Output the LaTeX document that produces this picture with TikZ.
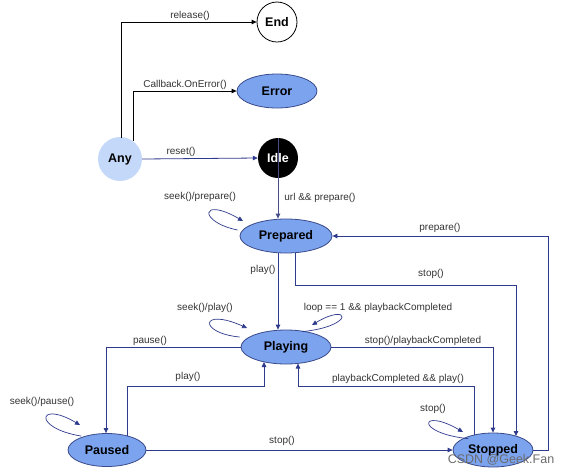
\documentclass[tikz,border=0pt]{standalone}
\usepackage{fontspec}
\setmainfont{Liberation Sans}
\usetikzlibrary{arrows.meta,shapes.geometric}
\definecolor{stfill}{HTML}{7BA3EE}
\definecolor{stline}{HTML}{3A4A8A}
\definecolor{anyfill}{HTML}{C4D9FA}
\definecolor{edge}{HTML}{2E3A8C}
\tikzset{
  state/.style={ellipse,draw=stline,fill=stfill,line width=0.8pt,inner sep=0pt,font=\fontsize{12.5}{14}\selectfont\bfseries},
  tr/.style={draw=edge,line width=0.8pt,-{Triangle[length=5pt,width=4.5pt]}},
  trk/.style={draw=black,line width=0.8pt,-{Triangle[length=5pt,width=4.5pt]}},
  lbl/.style={font=\fontsize{10}{12}\selectfont,text=black!80,inner sep=1pt},
}
\begin{document}
\begin{tikzpicture}[x=1pt,y=-1pt]
\useasboundingbox (0,0) rectangle (571,475);
% nodes
\node[circle,draw=black,fill=white,line width=0.8pt,minimum size=40pt,inner sep=0pt,font=\fontsize{12.5}{14}\selectfont\bfseries] (end) at (277,22) {End};
\node[state,minimum width=80pt,minimum height=34pt] (error) at (277,91) {Error};
\node[circle,fill=anyfill,minimum size=44pt,inner sep=0pt,font=\fontsize{12.5}{14}\selectfont\bfseries] (any) at (120,159) {Any};
\node[circle,fill=black,text=white,minimum size=40pt,inner sep=0pt,font=\fontsize{12.5}{14}\selectfont\bfseries] (idle) at (278,158) {Idle};
\node[state,minimum width=92pt,minimum height=34pt] (prep) at (286,236) {Prepared};
\node[state,minimum width=90pt,minimum height=34pt] (play) at (286,347) {Playing};
\node[state,minimum width=78pt,minimum height=33pt] (paused) at (107,450) {Paused};
\node[state,minimum width=80pt,minimum height=34pt] (stop) at (493,450) {Stopped};
% coordinates on node borders and bends
\coordinate (a1) at (121,137.5);
\coordinate (a2) at (133,141);
\coordinate (c1) at (121,22);
\coordinate (c2) at (133,91);
\coordinate (p1) at (295,253);
\coordinate (c3) at (295,285);
\coordinate (c4) at (516,285);
\coordinate (s1) at (516,436);
\coordinate (c5) at (548,450);
\coordinate (c6) at (548,236);
\coordinate (c7) at (106,347);
\coordinate (q1) at (127,436);
\coordinate (c8) at (127,386);
\coordinate (c9) at (264,386);
\coordinate (g1) at (264,362);
\coordinate (c10) at (493,347);
\coordinate (s2) at (474,435);
\coordinate (c11) at (474,386);
\coordinate (c12) at (298,386);
\coordinate (g2) at (298,363.5);
% edges
\draw[trk] (a1) -- (c1) -- (end.west);
\draw[trk] (a2) -- (c2) -- (error.west);
\draw[tr] (any.east) -- (idle.west);
\draw[draw=edge!70!gray,line width=0.8pt,-{Triangle[length=5pt,width=4.5pt]}] (idle.north) -- (prep.north -| idle.north);
\draw[tr] (prep.south -| 278,0) -- (play.north -| 278,0);
\draw[tr] (p1) -- (c3) -- (c4) -- (s1);
\draw[tr] (stop.east) -- (c5) -- (c6) -- (prep.east);
\draw[tr] (play.west) -- (c7) -- (paused.north -| c7);
\draw[tr] (q1) -- (c8) -- (c9) -- (g1);
\draw[tr] (play.east) -- (c10) -- (stop.north);
\draw[tr] (s2) -- (c11) -- (c12) -- (g2);
\draw[tr] (paused.east) -- (stop.west);
% self loops
\draw[tr,line width=0.7pt] (prep.west) ++(-2,-6) .. controls (198,222) and (200,196) .. (243,221);
\draw[tr,line width=0.7pt] (play.west) ++(-1,-10) .. controls (198,333) and (200,307) .. (247,328);
\draw[tr,line width=0.7pt] (paused.north west) ++(2,-2) .. controls (32,428) and (38,400) .. (80,425);
\draw[tr,line width=0.7pt] (stop.north west) ++(4,1) .. controls (414,433) and (420,407) .. (463,432);
\draw[tr,line width=0.7pt] (play.north east) ++(-16,-3) .. controls (356,326) and (350,302) .. (312,325);
% labels
\node[lbl] (l1) at (190,16) {release()};
\node[lbl] (l2) at (185,85) {Callback.OnError()};
\node[lbl] (l3) at (181,152) {reset()};
\node[lbl] (l4) at (320,198) {url \&\& prepare()};
\node[lbl] (l5) at (200,197) {seek()/prepare()};
\node[lbl] (l6) at (263,270) {play()};
\node[lbl] (l7) at (440,228) {prepare()};
\node[lbl] (l8) at (431,274) {stop()};
\node[lbl] (l9) at (205,308) {seek()/play()};
\node[lbl] (l10) at (378,308) {loop == 1 \&\& playbackCompleted};
\node[lbl] (l11) at (150,341) {pause()};
\node[lbl] (l12) at (423,341) {stop()/playbackCompleted};
\node[lbl] (l13) at (188,377) {play()};
\node[lbl] (l14) at (398,379) {playbackCompleted \&\& play()};
\node[lbl] (l15) at (42,402) {seek()/pause()};
\node[lbl] (l16) at (433,409) {stop()};
\node[lbl] (l17) at (282,441) {stop()};
\node[font=\fontsize{12.5}{14}\selectfont,text=gray!85!black,inner sep=0pt] (wm) at (501,460) {CSDN @Geek.Fan};
\end{tikzpicture}
\end{document}
